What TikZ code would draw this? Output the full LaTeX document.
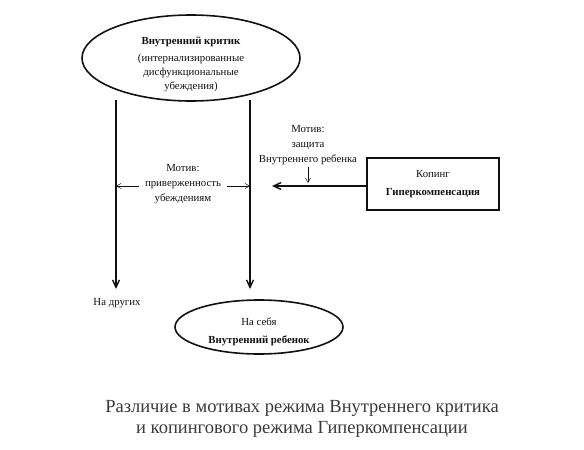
\documentclass[tikz,border=0pt]{standalone}
\usepackage{fontspec}
\setmainfont{Liberation Serif}
\usepackage{xcolor}
\usetikzlibrary{arrows.meta,positioning,shapes.geometric}
\definecolor{Ink}{HTML}{111111}
\definecolor{CaptionGrey}{HTML}{3A3A3A}

\begin{document}
\begin{tikzpicture}[x=1pt,y=-1pt]
  \path[use as bounding box] (0,0) rectangle (584,450);
  \tikzset{
    icOval/.style={
      draw=Ink, ellipse, line width=1.6pt, inner xsep=0pt, inner ysep=-8pt,
      align=center, font=\fontsize{10.8}{13.8}\selectfont, text=Ink
    },
    icBox/.style={
      draw=Ink, rectangle, line width=1.6pt, inner sep=0pt,
      minimum width=132pt, minimum height=52pt,
      align=center, font=\fontsize{10.8}{17.5}\selectfont, text=Ink
    },
    icLabel/.style={align=center, font=\fontsize{10.8}{14.8}\selectfont, text=Ink, inner sep=1pt},
    icFlow/.style={
      -{Straight Barb[length=2.6mm,width=2.4mm]}, draw=Ink, line width=1.4pt
    },
    icHint/.style={
      -{Straight Barb[length=1.6mm,width=1.8mm]}, draw=Ink, line width=.5pt,
      shorten <=5pt
    }
  }

  % \rule в первой строке опускает текст чуть ниже центра овала
  \node[icOval,minimum width=218pt,minimum height=86pt] (critic) at (191,58)
    {\rule{0pt}{20pt}\textbf{Внутренний критик}\\[4pt](интернализированные\\дисфункциональные\\убеждения)};
  \node[icOval,minimum width=168pt,minimum height=54pt] (child) at (259,327)
    {\rule{0pt}{18pt}На себя\\[4pt]\textbf{Внутренний ребенок}};
  \node[icBox] (coping) at (433,184) {Копинг\\\textbf{Гиперкомпенсация}};
  \node[icLabel] (others) at (117,303) {На других};

  % две линии от критика: на других и на себя
  \coordinate (leftTop) at (116,100);
  \coordinate (rightTop) at (250,100);
  \draw[icFlow] (leftTop) -- (leftTop |- 0,289);
  \draw[icFlow] (rightTop) -- (rightTop |- 0,289);

  \node[icLabel] (devotion) at (183,184) {Мотив:\\приверженность\\убеждениям};
  \draw[icHint] (devotion.west |- 0,186) -- (leftTop |- 0,186);
  \draw[icHint] (devotion.east |- 0,186) -- (rightTop |- 0,186);

  \draw[icFlow] (coping.west |- 0,186) -- (272,186);
  \node[icLabel] (protect) at (308,145) {Мотив:\\защита\\Внутреннего ребенка};
  \draw[icHint,shorten <=1pt] (protect.south) -- (protect.south |- 0,183);

  \node[font=\fontsize{18.5}{20.5}\selectfont,text=CaptionGrey,align=center] (caption) at (302,419)
    {Различие в мотивах режима Внутреннего критика\\и копингового режима Гиперкомпенсации};
\end{tikzpicture}
\end{document}
